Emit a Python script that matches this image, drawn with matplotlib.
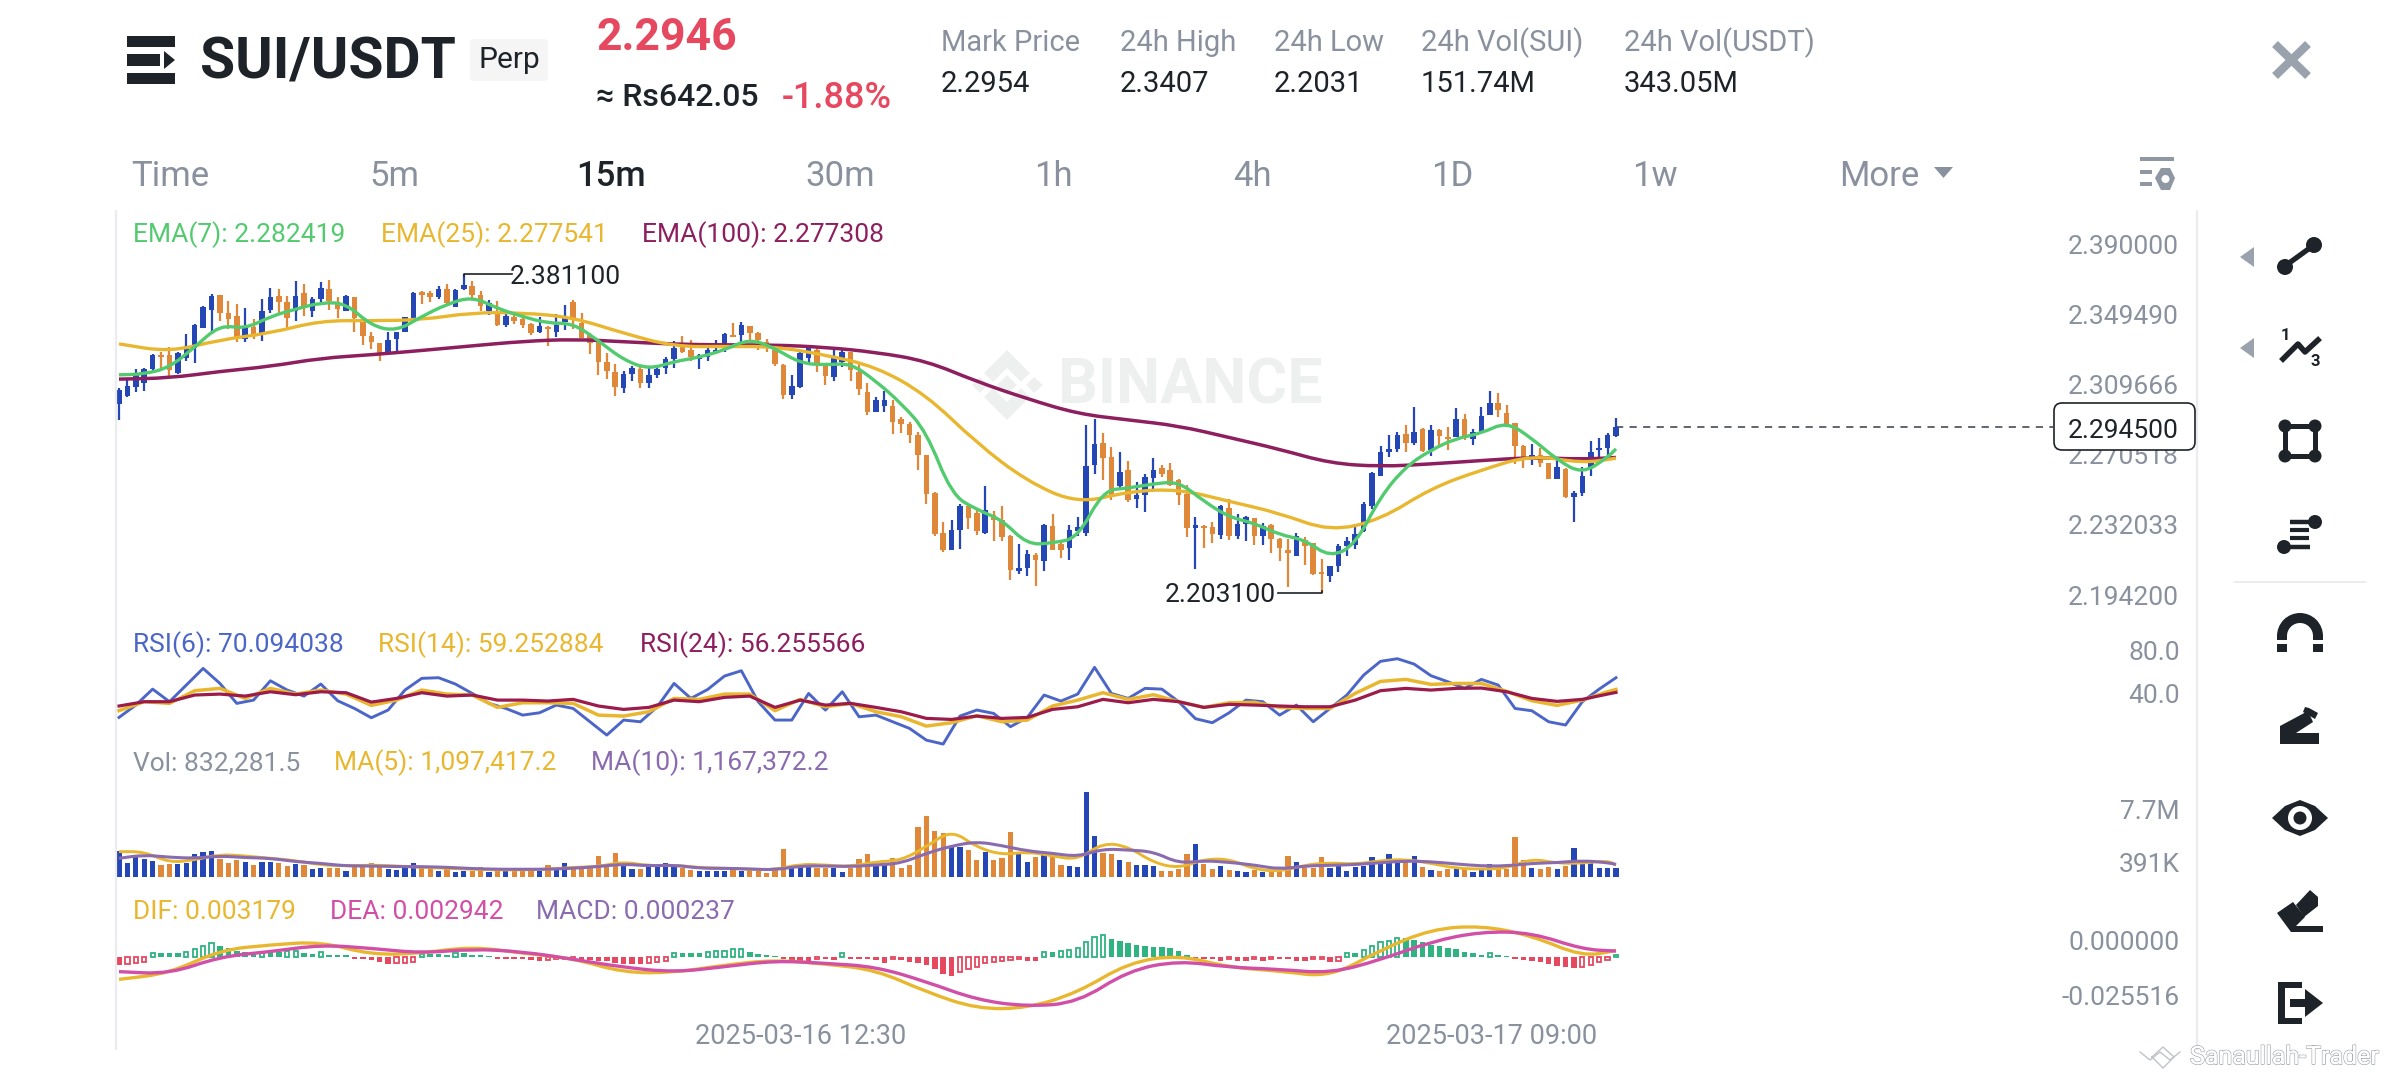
import numpy as np
import matplotlib
matplotlib.use("Agg")
import matplotlib.pyplot as plt
from matplotlib.patches import Circle, FancyBboxPatch, PathPatch, Polygon, Rectangle, Wedge
from matplotlib.path import Path
from matplotlib import patheffects as pe

# candles, 15m, oldest first
highs = [
    2.3176,2.3232,2.3282,2.3287,2.3367,2.3375,2.3405,2.3380,2.3479,2.3533,
    2.3635,2.3700,2.3697,2.3665,2.3645,2.3622,2.3561,2.3673,2.3734,2.3730,
    2.3691,2.3775,2.3758,2.3684,2.3767,2.3780,2.3684,2.3697,2.3687,2.3548,
    2.3487,2.3427,2.3487,2.3492,2.3572,2.3715,2.3721,2.3721,2.3747,2.3758,
    2.3728,2.3811,2.3775,2.3719,2.3669,2.3662,2.3597,2.3594,2.3571,2.3538,
    2.3571,2.3523,2.3588,2.3640,2.3668,2.3597,2.3482,2.3445,2.3374,2.3309,
    2.3274,2.3302,2.3296,2.3287,2.3302,2.3352,2.3441,2.3467,2.3445,2.3367,
    2.3398,2.3445,2.3486,2.3542,2.3547,2.3525,2.3491,2.3449,2.3398,2.3309,
    2.3249,2.3380,2.3411,2.3411,2.3305,2.3393,2.3393,2.3380,2.3318,2.3207,
    2.3127,2.3157,2.3110,2.3013,2.2989,2.2928,2.2803,2.2598,2.2426,2.2440,
    2.2530,2.2519,2.2496,2.2626,2.2487,2.2519,2.2357,2.2306,2.2273,2.2254,
    2.2416,2.2474,2.2325,2.2412,2.2455,2.2970,2.3002,2.2924,2.2846,2.2818,
    2.2771,2.2649,2.2697,2.2784,2.2747,2.2760,2.2667,2.2636,2.2455,2.2412,
    2.2426,2.2524,2.2558,2.2472,2.2459,2.2449,2.2421,2.2417,2.2337,2.2332,
    2.2365,2.2343,2.2313,2.2222,2.2179,2.2304,2.2343,2.2417,2.2537,2.2706,
    2.2853,2.2912,2.2933,2.2970,2.3068,2.2951,2.2970,2.2946,2.2957,2.3063,
    2.3029,2.2946,2.3068,2.3160,2.3150,2.3081,2.2979,2.2858,2.2862,2.2840,
    2.2756,2.2775,2.2728,2.2602,2.2737,2.2882,2.2895,2.2923,2.3007,
]
lows = [
    2.2995,2.3126,2.3152,2.3157,2.3269,2.3287,2.3241,2.3256,2.3325,2.3315,
    2.3511,2.3487,2.3548,2.3505,2.3436,2.3431,2.3449,2.3440,2.3594,2.3598,
    2.3511,2.3548,2.3580,2.3572,2.3659,2.3613,2.3566,2.3604,2.3492,2.3418,
    2.3394,2.3328,2.3375,2.3375,2.3492,2.3561,2.3645,2.3659,2.3673,2.3641,
    2.3628,2.3725,2.3678,2.3604,2.3585,2.3523,2.3519,2.3534,2.3510,2.3473,
    2.3486,2.3413,2.3460,2.3501,2.3504,2.3454,2.3367,2.3249,2.3227,2.3129,
    2.3147,2.3216,2.3179,2.3175,2.3231,2.3255,2.3290,2.3370,2.3328,2.3281,
    2.3329,2.3365,2.3376,2.3460,2.3422,2.3426,2.3389,2.3380,2.3300,2.3117,
    2.3116,2.3179,2.3315,2.3263,2.3194,2.3218,2.3296,2.3218,2.3138,2.3023,
    2.3045,2.3045,2.2920,2.2924,2.2868,2.2716,2.2530,2.2347,2.2258,2.2269,
    2.2279,2.2388,2.2357,2.2362,2.2319,2.2319,2.2102,2.2139,2.2124,2.2068,
    2.2156,2.2269,2.2226,2.2217,2.2351,2.2351,2.2697,2.2664,2.2552,2.2617,
    2.2537,2.2505,2.2481,2.2612,2.2678,2.2626,2.2524,2.2342,2.2165,2.2282,
    2.2310,2.2333,2.2329,2.2334,2.2319,2.2300,2.2300,2.2254,2.2207,2.2064,
    2.2235,2.2189,2.2133,2.2031,2.2094,2.2146,2.2235,2.2276,2.2369,2.2499,
    2.2682,2.2789,2.2816,2.2816,2.2858,2.2816,2.2797,2.2853,2.2830,2.2901,
    2.2886,2.2858,2.2927,2.3026,2.3016,2.2964,2.2752,2.2728,2.2747,2.2734,
    2.2669,2.2670,2.2563,2.2425,2.2574,2.2685,2.2765,2.2789,2.2905,
]
opens = [
    2.3088,2.3129,2.3181,2.3204,2.3282,2.3362,2.3362,2.3260,2.3343,2.3399,
    2.3511,2.3613,2.3697,2.3594,2.3576,2.3449,2.3520,2.3473,2.3613,2.3691,
    2.3659,2.3604,2.3706,2.3604,2.3673,2.3728,2.3659,2.3604,2.3687,2.3548,
    2.3468,2.3427,2.3380,2.3449,2.3492,2.3566,2.3715,2.3710,2.3687,2.3728,
    2.3628,2.3728,2.3747,2.3697,2.3604,2.3603,2.3528,2.3575,2.3560,2.3534,
    2.3491,2.3519,2.3491,2.3547,2.3659,2.3538,2.3473,2.3435,2.3324,2.3268,
    2.3175,2.3255,2.3283,2.3203,2.3249,2.3287,2.3337,2.3417,2.3389,2.3337,
    2.3352,2.3374,2.3417,2.3473,2.3473,2.3525,2.3482,2.3435,2.3389,2.3305,
    2.3138,2.3184,2.3342,2.3389,2.3300,2.3240,2.3324,2.3380,2.3268,2.3156,
    2.3045,2.3073,2.3073,2.3002,2.2976,2.2915,2.2803,2.2589,2.2366,2.2273,
    2.2385,2.2515,2.2478,2.2366,2.2468,2.2437,2.2347,2.2152,2.2171,2.2245,
    2.2208,2.2407,2.2306,2.2282,2.2375,2.2366,2.2747,2.2868,2.2790,2.2630,
    2.2716,2.2556,2.2580,2.2673,2.2729,2.2716,2.2664,2.2585,2.2394,2.2407,
    2.2399,2.2357,2.2505,2.2347,2.2418,2.2449,2.2351,2.2412,2.2332,2.2272,
    2.2239,2.2328,2.2310,2.2142,2.2127,2.2183,2.2291,2.2300,2.2380,2.2518,
    2.2685,2.2816,2.2834,2.2918,2.2868,2.2946,2.2830,2.2942,2.2905,2.2905,
    2.3002,2.2890,2.2933,2.3026,2.3095,2.3035,2.2979,2.2853,2.2784,2.2802,
    2.2756,2.2670,2.2723,2.2570,2.2592,2.2734,2.2830,2.2840,2.2909,
]
closes = [
    2.3167,2.3185,2.3260,2.3282,2.3362,2.3349,2.3278,2.3371,2.3412,2.3529,
    2.3628,2.3691,2.3594,2.3561,2.3455,2.3520,2.3468,2.3609,2.3687,2.3659,
    2.3566,2.3691,2.3628,2.3673,2.3734,2.3665,2.3617,2.3691,2.3566,2.3468,
    2.3431,2.3371,2.3446,2.3492,2.3572,2.3710,2.3697,2.3687,2.3728,2.3650,
    2.3725,2.3752,2.3697,2.3632,2.3650,2.3528,2.3579,2.3551,2.3528,2.3486,
    2.3523,2.3504,2.3528,2.3575,2.3556,2.3454,2.3426,2.3324,2.3274,2.3181,
    2.3255,2.3287,2.3203,2.3249,2.3281,2.3337,2.3398,2.3380,2.3352,2.3361,
    2.3389,2.3389,2.3478,2.3463,2.3528,2.3482,2.3445,2.3398,2.3311,2.3138,
    2.3188,2.3370,2.3398,2.3305,2.3244,2.3352,2.3380,2.3277,2.3170,2.3045,
    2.3110,2.3110,2.2989,2.2976,2.2915,2.2803,2.2585,2.2362,2.2273,2.2385,
    2.2519,2.2450,2.2375,2.2496,2.2437,2.2344,2.2161,2.2171,2.2251,2.2213,
    2.2412,2.2273,2.2269,2.2385,2.2399,2.2742,2.2864,2.2784,2.2571,2.2705,
    2.2552,2.2580,2.2678,2.2719,2.2697,2.2636,2.2580,2.2394,2.2412,2.2394,
    2.2362,2.2515,2.2351,2.2418,2.2455,2.2351,2.2406,2.2332,2.2282,2.2254,
    2.2347,2.2291,2.2138,2.2138,2.2179,2.2295,2.2319,2.2362,2.2529,2.2700,
    2.2816,2.2834,2.2914,2.2868,2.2933,2.2827,2.2942,2.2909,2.2890,2.3002,
    2.2905,2.2933,2.3020,2.3091,2.3054,2.2970,2.2853,2.2775,2.2802,2.2756,
    2.2670,2.2737,2.2566,2.2592,2.2685,2.2821,2.2840,2.2914,2.2961,
]

# moving averages read every 3 / 6 candles, last candle added at the end
ema7 = [
    2.3250,2.3254,2.3291,2.3405,2.3529,2.3507,2.3576,2.3617,2.3654,2.3650,
    2.3524,2.3494,2.3576,2.3645,2.3687,2.3621,2.3575,2.3538,2.3538,2.3441,
    2.3333,2.3281,2.3324,2.3348,2.3389,2.3452,2.3398,2.3315,2.3305,2.3315,
    2.3215,2.3091,2.2933,2.2580,2.2496,2.2440,2.2301,2.2310,2.2338,2.2604,
    2.2617,2.2641,2.2654,2.2543,2.2455,2.2421,2.2356,2.2328,2.2230,2.2300,
    2.2570,2.2737,2.2830,2.2895,2.2923,2.2988,2.2895,2.2775,2.2696,2.2789,
    2.2836,
]
ema25 = [
    2.3423,2.3377,2.3446,2.3483,2.3553,2.3552,2.3557,2.3598,2.3597,2.3571,
    2.3482,2.3408,2.3408,2.3408,2.3361,2.3296,2.3138,2.2868,2.2654,2.2530,
    2.2598,2.2612,2.2543,2.2477,2.2375,2.2440,2.2616,2.2719,2.2802,2.2756,
    2.2784,
]
ema100 = [
    2.3226,2.3232,2.3269,2.3297,2.3343,2.3362,2.3386,2.3412,2.3437,2.3449,
    2.3435,2.3421,2.3417,2.3417,2.3404,2.3376,2.3328,2.3212,2.3116,2.3032,
    2.2998,2.2965,2.2900,2.2834,2.2756,2.2737,2.2752,2.2771,2.2789,2.2778,
    2.2788,
]

# RSI(6) read every 2 candles, the slower two every 3
rsi6 = [
    32.5,44.2,59.3,47.4,63.1,78.9,64.7,45.8,48.9,67.2,
    58.4,52.7,64.1,48.3,41.0,32.2,39.5,58.4,69.5,70.1,
    64.1,55.2,45.8,41.0,34.7,36.9,44.2,41.0,28.4,15.8,
    30.0,28.4,42.6,64.7,50.5,59.0,71.7,76.7,47.4,30.0,
    30.0,55.2,39.5,56.8,33.1,34.7,28.4,22.1,11.0,7.3,
    33.8,39.5,36.3,23.7,32.5,53.7,48.0,54.6,79.9,55.2,
    50.5,60.0,59.3,47.4,31.3,27.5,36.9,48.9,47.4,34.7,
    44.2,28.4,41.0,53.7,72.6,85.6,88.1,83.0,72.0,66.3,
    60.0,68.5,63.1,41.0,38.8,28.4,25.3,47.4,59.3,70.1,
]
rsi14 = [
    38.9,47.4,45.8,57.8,60.0,50.5,60.0,54.6,58.4,54.6,
    43.9,48.9,58.4,54.6,53.7,42.0,46.4,46.4,45.8,34.7,
    33.8,37.9,50.5,49.6,54.6,54.6,38.9,49.6,42.6,45.8,
    37.9,33.2,24.3,27.5,34.1,28.4,30.0,43.3,48.9,55.9,
    49.6,54.0,47.4,42.0,46.4,46.8,42.0,41.0,41.0,55.3,
    66.6,68.5,63.8,64.7,64.7,57.2,48.3,43.9,48.9,56.8,
    59.0,
]
rsi24 = [
    43.3,47.4,47.4,53.7,54.6,52.7,56.8,54.0,56.8,55.9,
    47.0,50.5,55.9,52.7,53.7,48.9,48.9,48.0,49.6,43.3,
    40.1,42.0,48.9,47.4,51.5,52.7,42.0,48.9,44.2,45.8,
    42.0,37.9,31.6,30.6,33.8,31.6,32.5,40.1,42.6,49.6,
    46.4,49.6,47.4,42.0,44.9,44.2,43.3,42.6,42.6,48.9,
    57.8,60.0,58.4,60.0,60.3,56.8,50.5,47.7,49.6,54.6,
    56.2,
]

# volume in millions
volumes = [
    2.42,1.27,2.03,1.70,1.52,1.12,1.18,1.18,1.33,2.09,
    2.33,2.36,1.64,1.33,1.58,1.36,1.12,1.36,1.36,1.27,
    1.06,1.18,1.12,0.76,0.85,0.88,0.82,0.61,1.12,1.18,
    1.27,1.12,0.76,0.70,0.82,1.27,0.82,0.82,0.61,0.73,
    0.52,0.61,0.61,0.97,0.52,0.61,0.61,0.58,0.58,0.58,
    0.61,1.12,0.82,1.27,0.73,0.97,0.82,1.94,0.91,2.18,
    1.18,0.76,0.73,0.97,0.97,1.27,0.91,0.82,0.67,0.61,
    0.58,0.58,0.58,0.67,0.61,0.67,0.61,0.36,0.67,2.58,
    0.91,0.91,0.91,0.82,0.82,0.82,0.52,0.82,1.70,2.09,
    1.12,1.12,1.73,0.88,1.12,4.61,5.58,4.24,4.00,2.73,
    2.79,2.48,1.58,2.33,1.58,1.79,4.15,2.27,1.36,1.88,
    2.18,1.88,1.09,1.03,0.94,7.73,3.79,2.18,2.12,1.58,
    1.42,1.09,1.09,1.03,0.55,0.61,0.73,2.12,3.03,1.21,
    0.73,1.03,0.67,0.61,0.52,0.67,0.45,0.67,0.61,1.97,
    1.36,0.82,0.82,1.88,0.88,1.03,0.61,0.97,1.03,1.88,
    1.52,2.09,1.27,1.58,1.94,0.91,0.67,0.55,0.79,0.73,
    0.82,0.52,0.73,1.21,0.73,0.73,3.64,1.58,0.82,0.76,
    0.91,0.73,1.03,2.64,1.27,1.33,0.88,0.82,0.83,
]
vol_ma5 = [
    2.33,2.33,1.33,1.58,2.09,1.94,1.73,1.52,1.12,1.03,
    1.12,1.03,0.91,0.82,0.73,0.67,0.67,0.73,0.91,0.97,
    1.42,1.03,1.12,0.88,0.82,0.73,0.67,1.21,1.12,0.97,
    1.42,1.52,2.79,4.30,2.73,2.03,2.33,1.94,1.58,3.15,
    2.79,1.33,0.82,1.64,1.67,0.73,0.52,1.12,1.33,1.18,
    1.52,1.64,1.27,0.82,0.73,0.82,1.70,1.27,1.27,1.52,
    1.10,
]
vol_ma10 = [
    1.73,2.03,1.82,1.73,1.94,1.79,1.73,1.42,1.27,1.03,
    1.03,0.97,0.97,0.91,0.79,0.73,0.73,0.73,0.82,0.97,
    1.21,1.03,1.12,0.82,0.82,0.76,0.67,1.03,1.03,0.97,
    1.12,1.27,2.18,2.85,3.24,2.88,2.39,2.18,1.88,2.58,
    2.48,2.33,1.27,1.52,1.36,1.12,0.73,1.03,1.09,1.15,
    1.33,1.48,1.42,1.21,1.03,1.03,1.27,1.33,1.52,1.33,
    1.17,
]

# MACD in thousandths
macd_hist = [
    -3.4,-3.1,-2.8,-2.2,2.2,2.2,2.2,2.2,2.3,3.9,
    5.4,6.5,5.4,4.4,3.1,2.3,1.9,2.5,2.5,2.3,
    2.8,3.1,1.9,1.6,2.5,1.2,0.9,0.9,-0.9,-0.9,
    -1.2,-2.3,-3.1,-2.8,-2.5,-2.2,1.6,1.6,1.6,1.2,
    2.2,2.2,0.9,0.9,0.6,-0.6,-0.6,-0.8,-0.9,-1.1,
    -1.9,-1.2,-0.9,-1.1,-0.9,-1.2,-1.4,-1.6,-1.9,-2.5,
    -3.1,-3.1,-3.1,-2.8,-2.2,-1.6,2.2,2.2,2.2,2.2,
    2.3,2.8,3.1,3.7,4.0,2.5,1.6,0.9,0.8,-0.8,
    -1.1,-1.9,-2.2,-0.8,-0.8,-1.2,2.2,-0.8,-0.9,-0.9,
    -1.2,-2.5,-0.8,-1.2,-2.2,-2.5,-3.7,-5.4,-7.8,-8.6,
    -7.0,-5.4,-4.7,-2.8,-2.2,-1.9,-1.2,-0.9,-1.6,-1.6,
    2.3,2.3,2.8,3.4,4.4,7.0,9.6,10.3,8.6,7.8,
    6.5,5.6,5.3,5.0,5.0,4.4,3.1,1.2,-0.8,-0.8,
    -0.8,-1.6,-0.9,-1.9,-1.9,-0.8,-1.6,-0.8,-0.8,-0.9,
    -1.9,-1.9,-0.9,-0.8,-2.2,-1.6,2.2,2.2,3.4,5.4,
    7.0,7.8,9.0,9.0,8.1,7.0,5.9,5.4,4.4,4.0,
    2.5,1.9,1.2,2.2,0.9,0.6,-0.8,-1.2,-1.6,-2.2,
    -3.1,-4.0,-4.7,-5.0,-4.7,-3.4,-2.2,-1.2,1.2,
]
macd_dif = [
    -10.3,-7.5,3.4,5.8,7.3,1.1,1.9,5.0,1.9,-0.5,
    -7.2,-7.2,-3.6,-1.2,-3.1,-5.9,-16.2,-24.1,-23.8,-16.5,
    -2.5,1.1,-4.7,-6.4,-9.3,3.4,13.1,14.8,10.1,0.3,
    3.2,
]
macd_dea = [
    -6.7,-7.8,0.3,2.6,5.8,4.2,1.9,3.9,2.6,-0.9,
    -4.7,-7.0,-4.4,-1.6,-2.8,-4.4,-11.4,-19.9,-23.0,-21.2,
    -6.2,-1.6,-4.7,-5.6,-7.5,-1.2,7.3,12.0,11.5,3.7,
    2.9,
]

price_ticks = ["2.390000", "2.349490", "2.309666", "2.270518", "2.232033", "2.194200"]
other_ticks = ["80.0", "40.0", "7.7M", "391K", "0.000000", "-0.025516"]
intervals = ["Time", "5m", "15m", "30m", "1h", "4h", "1D", "1w", "More"]
stat_names = ["Mark Price", "24h High", "24h Low", "24h Vol(SUI)", "24h Vol(USDT)"]
stat_values = ["2.2954", "2.3407", "2.2031", "151.74M", "343.05M"]

BLUE = "#2546B5"
ORANGE = "#E0883A"
GREEN = "#52CB6F"
YELLOW = "#E9B72F"
WINE = "#8E1F5E"
RSI_BLUE = "#4C66C8"
RSI_WINE = "#9B1B4B"
PURPLE = "#8A6BB0"
PINK = "#D24FA8"
RED = "#E5485F"
TEAL = "#2FB380"
GREY = "#8A919E"
DARK = "#1E2329"
LINE = "#EAECEF"

plt.rcParams["font.family"] = ["Roboto", "DejaVu Sans"]

W, H = 2400, 1080
fig = plt.figure(figsize=(W / 100, H / 100), dpi=100, facecolor="white")

# watermark sits behind the candles
bg = fig.add_axes([0, 0, 1, 1], zorder=-1)
bg.set_xlim(0, W)
bg.set_ylim(H, 0)
bg.axis("off")
WM = "#EEF0F0"
for pts in [
    [(1007, 350), (1030, 373), (1021, 382), (1007, 368), (993, 382), (984, 373)],
    [(1007, 420), (1030, 397), (1021, 388), (1007, 402), (993, 388), (984, 397)],
    [(1007, 375), (1017, 385), (1007, 395), (997, 385)],
    [(1034, 377), (1043, 385), (1034, 393), (1026, 385)],
    [(980, 377), (988, 385), (980, 393), (972, 385)],
]:
    bg.add_patch(Polygon(pts, closed=True, color=WM, lw=0))
bg.text(1058, 386, "BINANCE", fontsize=45, color=WM, fontweight="bold", va="center")


def panel(top, bottom, y_top, y_bottom):
    # chart panel between two pixel rows, candles 8.41 px apart from x=119
    left, right = 116, 2197
    ax = fig.add_axes([left / W, 1 - bottom / H, (right - left) / W, (bottom - top) / H])
    ax.set_xlim((left - 119) / 8.41, (right - 119) / 8.41)
    ax.set_ylim(y_bottom, y_top)
    ax.axis("off")
    return ax


def curve(ax, xs, ys, color, lw, zorder):
    # rounded line through the read values
    pts = np.column_stack([xs, ys])
    mids = (pts[:-1] + pts[1:]) / 2
    verts = [pts[0], mids[0]]
    codes = [Path.MOVETO, Path.LINETO]
    for p, m in zip(pts[1:-1], mids[1:]):
        verts += [p, m]
        codes += [Path.CURVE3, Path.CURVE3]
    verts.append(pts[-1])
    codes.append(Path.LINETO)
    ax.add_patch(PathPatch(Path(verts, codes), fill=False, edgecolor=color, lw=lw, zorder=zorder))


n = len(closes)
idx = np.arange(n)
o, h, l, c = map(np.array, (opens, highs, lows, closes))
up = c >= o
colors = np.where(up, BLUE, ORANGE)

x3 = list(range(0, 178, 3)) + [178]
x6 = list(range(0, 178, 6)) + [178]
x2 = list(range(0, 179, 2))

# price
ax = panel(210, 620, 2.4171, 2.1880)
ax.vlines(idx, l, h, color=colors, lw=1.6, zorder=2)
ax.bar(idx, np.maximum(np.abs(c - o), 0.0012), bottom=np.minimum(o, c), width=0.66, color=colors, zorder=2)
curve(ax, x6, ema100, WINE, 2.5, 3)
curve(ax, x6, ema25, YELLOW, 2.4, 4)
curve(ax, x3, ema7, GREEN, 2.4, 5)
ax.plot([n - 1, 230], [closes[-1], closes[-1]], color="#555B63", lw=1.3, dashes=(4, 3.5), zorder=1)
ax.plot([41, 41, 46.7], [highs[41] - 0.001, 2.3811, 2.3811], color=DARK, lw=1.2)
ax.plot([143, 143, 137.8], [lows[143] + 0.001, 2.2031, 2.2031], color=DARK, lw=1.2)

# rsi
ax = panel(640, 760, 105.8, -7.8)
ax.plot(x2, rsi6, color=RSI_BLUE, lw=2.1, zorder=2)
ax.plot(x3, rsi14, color=YELLOW, lw=2.5, zorder=3)
ax.plot(x3, rsi24, color=RSI_WINE, lw=2.3, zorder=4)

# volume
ax = panel(770, 877.3, 9.75, 0)
ax.bar(idx, volumes, width=0.62, color=colors, zorder=2)
curve(ax, x3, vol_ma5, YELLOW, 2.1, 3)
curve(ax, x3, vol_ma10, PURPLE, 2.2, 4)

# macd, rising bars are hollow
ax = panel(890, 1040, 31.4, -38.6)
hist = np.array(macd_hist)
rising = np.r_[False, hist[1:] > hist[:-1]]
hist_colors = np.where(hist > 0, TEAL, RED)
ax.bar(idx[~rising], hist[~rising], width=0.66, color=hist_colors[~rising], zorder=2)
ax.bar(idx[rising], hist[rising], width=0.5, facecolor="white", edgecolor=hist_colors[rising], lw=1.3, zorder=2)
curve(ax, x6, macd_dif, YELLOW, 2.4, 3)
curve(ax, x6, macd_dea, PINK, 2.4, 4)

# everything around the chart, in pixels
ov = fig.add_axes([0, 0, 1, 1], zorder=10)
ov.set_xlim(0, W)
ov.set_ylim(H, 0)
ov.axis("off")


def label(x, y, s, size=19, color=GREY, ha="left", weight="normal", **kw):
    return ov.text(x, y + 3, s, fontsize=size, color=color, ha=ha, va="center", fontweight=weight, **kw)


def bar(x0, y0, x1, y1, color=DARK, lw=3.6):
    ov.plot([x0, x1], [y0, y1], color=color, lw=lw, solid_capstyle="butt")


def rect(x0, y0, x1, y1, color=DARK):
    ov.add_patch(Rectangle((x0, y0), x1 - x0, y1 - y0, color=color, lw=0))


def poly(points, color=DARK):
    ov.add_patch(Polygon(points, closed=True, color=color, lw=0))


def dot(x, y, r=8, color=DARK):
    ov.add_patch(Circle((x, y), r, color=color, lw=0))


bar(116, 210, 116, 1050, LINE, 1.6)
bar(2197, 210, 2197, 1050, LINE, 1.6)

# header
rect(127, 36, 175, 47)
rect(127, 54, 160, 66)
poly([(164, 51), (175, 60), (164, 69)])
rect(127, 73, 175, 84)
label(200, 60, "SUI/USDT", 41, DARK, weight="bold")
ov.add_patch(FancyBboxPatch((473, 42), 72, 36, boxstyle="round,pad=3,rounding_size=4", fc="#F5F5F5", ec="none"))
label(509, 57, "Perp", 21.5, DARK, ha="center")
label(596, 35, "2.2946", 32, RED, weight="bold")
label(596, 95, "≈ Rs642.05", 23, DARK, weight="medium")
label(782, 95, "-1.88%", 26, RED, weight="medium")
for x, name, val in zip([941, 1120, 1274, 1421, 1624], stat_names, stat_values):
    label(x, 40, name, 21)
    label(x, 81, val, 21, DARK)
for x, name in zip([170, 394, 611, 840, 1053, 1252, 1452, 1655, 1879], intervals):
    if name == "15m":
        label(x, 173, name, 25, DARK, ha="center", weight="medium")
    else:
        label(x, 173, name, 25, ha="center")
poly([(1934, 167), (1953, 167), (1943.5, 178)], GREY)

# close and settings
bar(2275, 44, 2308, 76, "#9AA3AD", 6)
bar(2308, 44, 2275, 76, "#9AA3AD", 6)
rect(2140, 157, 2174, 161, "#8F97A3")
rect(2140, 170, 2152, 174, "#8F97A3")
rect(2140, 182, 2152, 186, "#8F97A3")
poly([(2155, 178), (2161, 168), (2170, 168), (2175, 178), (2170, 190), (2161, 190)], "#8F97A3")
dot(2165.5, 179, 4, "white")

# legends
for x, s, col in zip([133, 381, 642], ["EMA(7): 2.282419", "EMA(25): 2.277541", "EMA(100): 2.277308"], [GREEN, YELLOW, WINE]):
    label(x, 232, s, 19, col)
for x, s, col in zip([133, 378, 640], ["RSI(6): 70.094038", "RSI(14): 59.252884", "RSI(24): 56.255566"], [RSI_BLUE, YELLOW, WINE]):
    label(x, 642, s, 19, col)
for x, s, col in zip([133, 334, 591], ["Vol: 832,281.5", "MA(5): 1,097,417.2", "MA(10): 1,167,372.2"], [GREY, YELLOW, PURPLE]):
    label(x, 760, s, 19, col)
for x, s, col in zip([133, 330, 536], ["DIF: 0.003179", "DEA: 0.002942", "MACD: 0.000237"], [YELLOW, PINK, PURPLE]):
    label(x, 909, s, 19, col)

# axis labels
for y, s in zip([244, 314, 384, 454, 524, 595], price_ticks):
    label(2179, y, s, 19, ha="right")
for y, s in zip([650, 693, 809, 862, 940, 995], other_ticks):
    label(2180, y, s, 19, ha="right")
ov.add_patch(FancyBboxPatch((2061, 410), 127, 33, boxstyle="round,pad=7,rounding_size=8", fc="white", ec=DARK, lw=1.2, zorder=3))
label(2179, 428, "2.294500", 19, DARK, ha="right", zorder=4)
label(510, 274, "2.381100", 19, DARK)
label(1165, 592, "2.203100", 19, DARK)
label(695, 1033, "2025-03-16 12:30", 19.5)
label(1386, 1033, "2025-03-17 09:00", 19.5)

# drawing tools
for y in [257, 348]:
    poly([(2240, y), (2254, y - 10), (2254, y + 10)], "#9AA3AD")
bar(2285, 266, 2314, 245, lw=3.8)
dot(2285, 267, 8)
dot(2314, 245, 8)

label(2285, 333, "1", 12, DARK, ha="center", weight="bold")
label(2315, 358, "3", 12, DARK, ha="center", weight="bold")
ov.plot([2283, 2298, 2305, 2318], [359, 344, 352, 340], color=DARK, lw=4)

for xa, ya, xb, yb in [(2285, 426, 2315, 426), (2285, 456, 2315, 456), (2285, 426, 2285, 456), (2315, 426, 2315, 456)]:
    bar(xa, ya, xb, yb, lw=3.6)
for xa, ya in [(2285, 426), (2315, 426), (2285, 456), (2315, 456)]:
    dot(xa, ya, 6.5)

bar(2285, 547, 2310, 547, lw=3.2)
bar(2290, 522, 2312, 522, lw=3.2)
bar(2290, 530, 2309, 530, lw=3)
bar(2290, 538, 2309, 538, lw=3)
dot(2284, 547, 7)
dot(2315, 522, 7)

bar(2234, 582, 2366, 582, LINE, 1.4)

# magnet
ov.add_patch(Wedge((2300, 636), 23, 180, 360, width=10, color=DARK, lw=0))
rect(2277, 636, 2287, 640)
rect(2313, 636, 2323, 640)
rect(2277, 644, 2287, 652)
rect(2313, 644, 2323, 652)

poly([(2280, 726), (2308, 711), (2313, 722), (2296, 733), (2319, 733), (2319, 744), (2280, 744)])
poly([(2305, 707), (2309, 708), (2318, 713), (2315, 719), (2303, 712)])

poly([(2272, 818), (2285, 806), (2300, 800), (2315, 806), (2328, 818), (2315, 830), (2300, 836), (2285, 830)])
dot(2300, 818, 12, "white")
dot(2300, 818, 6.5)

poly([(2296, 905), (2310, 890), (2318, 897), (2318, 906), (2304, 917)])
poly([(2277, 913), (2293, 902), (2305, 917), (2296, 926), (2323, 926), (2323, 932), (2291, 932)])

rect(2278, 982, 2302, 988)
rect(2278, 982, 2285, 1024)
rect(2278, 1018, 2302, 1024)
rect(2290, 999, 2305, 1007)
poly([(2305, 989), (2323, 1003), (2305, 1017)])

# repost watermark
wt = label(2190, 1054, "Sanaullah-Trader", 18, "white")
wt.set_path_effects([pe.withStroke(linewidth=1.2, foreground="#A8ACB2"), pe.Normal()])
ov.plot([2140, 2150, 2160, 2170, 2180], [1052, 1060, 1052, 1060, 1052], color="#C0C3C8", lw=1)
ov.plot([2152, 2163, 2174, 2163, 2152], [1057, 1047, 1057, 1068, 1057], color="#C0C3C8", lw=1)

fig.savefig("out.png", dpi=100)
